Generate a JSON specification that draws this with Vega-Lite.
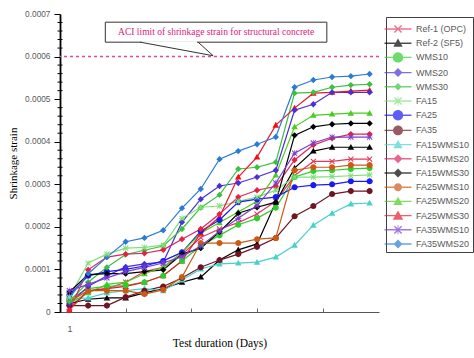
{
"$schema": "https://vega.github.io/schema/vega-lite/v6.json",
"width": 319, "height": 298,
"autosize": "none",
"padding": {"left": 60, "top": 14, "right": 95, "bottom": 46},
"background": "white",
"config": {"view": {"stroke": null}},
"datasets": {
"curves": [
{"s":"Ref-1 (OPC)","d":1,"v":0.1e-4},{"s":"Ref-1 (OPC)","d":2,"v":0.5e-4},{"s":"Ref-1 (OPC)","d":3,"v":0.55e-4},{"s":"Ref-1 (OPC)","d":4,"v":0.7e-4},{"s":"Ref-1 (OPC)","d":5,"v":0.95e-4},{"s":"Ref-1 (OPC)","d":6,"v":1.05e-4},{"s":"Ref-1 (OPC)","d":7,"v":1.35e-4},{"s":"Ref-1 (OPC)","d":8,"v":1.75e-4},{"s":"Ref-1 (OPC)","d":9,"v":1.95e-4},{"s":"Ref-1 (OPC)","d":10,"v":2.1e-4},{"s":"Ref-1 (OPC)","d":11,"v":2.3e-4},{"s":"Ref-1 (OPC)","d":12,"v":2.6e-4},{"s":"Ref-1 (OPC)","d":13,"v":3.2e-4},{"s":"Ref-1 (OPC)","d":14,"v":3.54e-4},{"s":"Ref-1 (OPC)","d":15,"v":3.54e-4},{"s":"Ref-1 (OPC)","d":16,"v":3.59e-4},{"s":"Ref-1 (OPC)","d":17,"v":3.59e-4},
{"s":"Ref-2 (SF5)","d":1,"v":0.2e-4},{"s":"Ref-2 (SF5)","d":2,"v":0.3e-4},{"s":"Ref-2 (SF5)","d":3,"v":0.33e-4},{"s":"Ref-2 (SF5)","d":4,"v":0.33e-4},{"s":"Ref-2 (SF5)","d":5,"v":0.45e-4},{"s":"Ref-2 (SF5)","d":6,"v":0.55e-4},{"s":"Ref-2 (SF5)","d":7,"v":0.7e-4},{"s":"Ref-2 (SF5)","d":8,"v":0.82e-4},{"s":"Ref-2 (SF5)","d":9,"v":1.22e-4},{"s":"Ref-2 (SF5)","d":10,"v":1.46e-4},{"s":"Ref-2 (SF5)","d":11,"v":1.6e-4},{"s":"Ref-2 (SF5)","d":12,"v":2.58e-4},{"s":"Ref-2 (SF5)","d":13,"v":3.38e-4},{"s":"Ref-2 (SF5)","d":14,"v":3.78e-4},{"s":"Ref-2 (SF5)","d":15,"v":3.87e-4},{"s":"Ref-2 (SF5)","d":16,"v":3.87e-4},{"s":"Ref-2 (SF5)","d":17,"v":3.87e-4},
{"s":"WMS10","d":1,"v":0.3e-4},{"s":"WMS10","d":2,"v":0.55e-4},{"s":"WMS10","d":3,"v":0.6e-4},{"s":"WMS10","d":4,"v":0.62e-4},{"s":"WMS10","d":5,"v":0.7e-4},{"s":"WMS10","d":6,"v":0.85e-4},{"s":"WMS10","d":7,"v":1.2e-4},{"s":"WMS10","d":8,"v":1.55e-4},{"s":"WMS10","d":9,"v":1.8e-4},{"s":"WMS10","d":10,"v":2.05e-4},{"s":"WMS10","d":11,"v":2.2e-4},{"s":"WMS10","d":12,"v":2.45e-4},{"s":"WMS10","d":13,"v":3.17e-4},{"s":"WMS10","d":14,"v":3.31e-4},{"s":"WMS10","d":15,"v":3.33e-4},{"s":"WMS10","d":16,"v":3.36e-4},{"s":"WMS10","d":17,"v":3.38e-4},
{"s":"WMS20","d":1,"v":0.2e-4},{"s":"WMS20","d":2,"v":0.6e-4},{"s":"WMS20","d":3,"v":0.85e-4},{"s":"WMS20","d":4,"v":1.06e-4},{"s":"WMS20","d":5,"v":1.13e-4},{"s":"WMS20","d":6,"v":1.17e-4},{"s":"WMS20","d":7,"v":2.11e-4},{"s":"WMS20","d":8,"v":2.65e-4},{"s":"WMS20","d":9,"v":2.96e-4},{"s":"WMS20","d":10,"v":3.03e-4},{"s":"WMS20","d":11,"v":3.17e-4},{"s":"WMS20","d":12,"v":3.33e-4},{"s":"WMS20","d":13,"v":4.74e-4},{"s":"WMS20","d":14,"v":4.88e-4},{"s":"WMS20","d":15,"v":5.16e-4},{"s":"WMS20","d":16,"v":5.16e-4},{"s":"WMS20","d":17,"v":5.16e-4},
{"s":"WMS30","d":1,"v":0.25e-4},{"s":"WMS30","d":2,"v":0.7e-4},{"s":"WMS30","d":3,"v":1.05e-4},{"s":"WMS30","d":4,"v":1.35e-4},{"s":"WMS30","d":5,"v":1.45e-4},{"s":"WMS30","d":6,"v":1.55e-4},{"s":"WMS30","d":7,"v":1.95e-4},{"s":"WMS30","d":8,"v":2.45e-4},{"s":"WMS30","d":9,"v":2.75e-4},{"s":"WMS30","d":10,"v":3.36e-4},{"s":"WMS30","d":11,"v":3.4e-4},{"s":"WMS30","d":12,"v":3.52e-4},{"s":"WMS30","d":13,"v":5.14e-4},{"s":"WMS30","d":14,"v":5.16e-4},{"s":"WMS30","d":15,"v":5.28e-4},{"s":"WMS30","d":16,"v":5.33e-4},{"s":"WMS30","d":17,"v":5.35e-4},
{"s":"FA15","d":1,"v":0.35e-4},{"s":"FA15","d":2,"v":1.15e-4},{"s":"FA15","d":3,"v":1.36e-4},{"s":"FA15","d":4,"v":1.5e-4},{"s":"FA15","d":5,"v":1.52e-4},{"s":"FA15","d":6,"v":1.57e-4},{"s":"FA15","d":7,"v":2.2e-4},{"s":"FA15","d":8,"v":2.46e-4},{"s":"FA15","d":9,"v":2.49e-4},{"s":"FA15","d":10,"v":2.6e-4},{"s":"FA15","d":11,"v":2.7e-4},{"s":"FA15","d":12,"v":2.86e-4},{"s":"FA15","d":13,"v":3.17e-4},{"s":"FA15","d":14,"v":3.17e-4},{"s":"FA15","d":15,"v":3.18e-4},{"s":"FA15","d":16,"v":3.2e-4},{"s":"FA15","d":17,"v":3.22e-4},
{"s":"FA25","d":1,"v":0.4e-4},{"s":"FA25","d":2,"v":0.85e-4},{"s":"FA25","d":3,"v":0.95e-4},{"s":"FA25","d":4,"v":1.0e-4},{"s":"FA25","d":5,"v":1.08e-4},{"s":"FA25","d":6,"v":1.2e-4},{"s":"FA25","d":7,"v":1.4e-4},{"s":"FA25","d":8,"v":1.9e-4},{"s":"FA25","d":9,"v":2.16e-4},{"s":"FA25","d":10,"v":2.58e-4},{"s":"FA25","d":11,"v":2.65e-4},{"s":"FA25","d":12,"v":2.7e-4},{"s":"FA25","d":13,"v":2.93e-4},{"s":"FA25","d":14,"v":2.98e-4},{"s":"FA25","d":15,"v":3.0e-4},{"s":"FA25","d":16,"v":3.07e-4},{"s":"FA25","d":17,"v":3.07e-4},
{"s":"FA35","d":1,"v":0.15e-4},{"s":"FA35","d":2,"v":0.15e-4},{"s":"FA35","d":3,"v":0.15e-4},{"s":"FA35","d":4,"v":0.35e-4},{"s":"FA35","d":5,"v":0.5e-4},{"s":"FA35","d":6,"v":0.6e-4},{"s":"FA35","d":7,"v":0.8e-4},{"s":"FA35","d":8,"v":1.05e-4},{"s":"FA35","d":9,"v":1.22e-4},{"s":"FA35","d":10,"v":1.36e-4},{"s":"FA35","d":11,"v":1.53e-4},{"s":"FA35","d":12,"v":1.74e-4},{"s":"FA35","d":13,"v":2.25e-4},{"s":"FA35","d":14,"v":2.49e-4},{"s":"FA35","d":15,"v":2.77e-4},{"s":"FA35","d":16,"v":2.84e-4},{"s":"FA35","d":17,"v":2.84e-4},
{"s":"FA15WMS10","d":1,"v":0.3e-4},{"s":"FA15WMS10","d":2,"v":0.33e-4},{"s":"FA15WMS10","d":3,"v":0.45e-4},{"s":"FA15WMS10","d":4,"v":0.5e-4},{"s":"FA15WMS10","d":5,"v":0.55e-4},{"s":"FA15WMS10","d":6,"v":0.5e-4},{"s":"FA15WMS10","d":7,"v":0.75e-4},{"s":"FA15WMS10","d":8,"v":1.01e-4},{"s":"FA15WMS10","d":9,"v":1.13e-4},{"s":"FA15WMS10","d":10,"v":1.15e-4},{"s":"FA15WMS10","d":11,"v":1.17e-4},{"s":"FA15WMS10","d":12,"v":1.29e-4},{"s":"FA15WMS10","d":13,"v":1.57e-4},{"s":"FA15WMS10","d":14,"v":2.04e-4},{"s":"FA15WMS10","d":15,"v":2.32e-4},{"s":"FA15WMS10","d":16,"v":2.54e-4},{"s":"FA15WMS10","d":17,"v":2.56e-4},
{"s":"FA15WMS20","d":1,"v":0.05e-4},{"s":"FA15WMS20","d":2,"v":0.99e-4},{"s":"FA15WMS20","d":3,"v":1.29e-4},{"s":"FA15WMS20","d":4,"v":1.36e-4},{"s":"FA15WMS20","d":5,"v":1.38e-4},{"s":"FA15WMS20","d":6,"v":1.46e-4},{"s":"FA15WMS20","d":7,"v":1.71e-4},{"s":"FA15WMS20","d":8,"v":1.95e-4},{"s":"FA15WMS20","d":9,"v":2.3e-4},{"s":"FA15WMS20","d":10,"v":2.7e-4},{"s":"FA15WMS20","d":11,"v":2.86e-4},{"s":"FA15WMS20","d":12,"v":2.95e-4},{"s":"FA15WMS20","d":13,"v":3.57e-4},{"s":"FA15WMS20","d":14,"v":3.92e-4},{"s":"FA15WMS20","d":15,"v":4.08e-4},{"s":"FA15WMS20","d":16,"v":4.18e-4},{"s":"FA15WMS20","d":17,"v":4.18e-4},
{"s":"FA15WMS30","d":1,"v":0.47e-4},{"s":"FA15WMS30","d":2,"v":0.88e-4},{"s":"FA15WMS30","d":3,"v":0.9e-4},{"s":"FA15WMS30","d":4,"v":0.9e-4},{"s":"FA15WMS30","d":5,"v":0.95e-4},{"s":"FA15WMS30","d":6,"v":0.99e-4},{"s":"FA15WMS30","d":7,"v":1.36e-4},{"s":"FA15WMS30","d":8,"v":1.5e-4},{"s":"FA15WMS30","d":9,"v":1.88e-4},{"s":"FA15WMS30","d":10,"v":2.32e-4},{"s":"FA15WMS30","d":11,"v":2.46e-4},{"s":"FA15WMS30","d":12,"v":2.58e-4},{"s":"FA15WMS30","d":13,"v":4.15e-4},{"s":"FA15WMS30","d":14,"v":4.35e-4},{"s":"FA15WMS30","d":15,"v":4.41e-4},{"s":"FA15WMS30","d":16,"v":4.43e-4},{"s":"FA15WMS30","d":17,"v":4.43e-4},
{"s":"FA25WMS10","d":1,"v":0.25e-4},{"s":"FA25WMS10","d":2,"v":0.5e-4},{"s":"FA25WMS10","d":3,"v":0.5e-4},{"s":"FA25WMS10","d":4,"v":0.5e-4},{"s":"FA25WMS10","d":5,"v":0.42e-4},{"s":"FA25WMS10","d":6,"v":0.52e-4},{"s":"FA25WMS10","d":7,"v":0.82e-4},{"s":"FA25WMS10","d":8,"v":1.62e-4},{"s":"FA25WMS10","d":9,"v":1.62e-4},{"s":"FA25WMS10","d":10,"v":1.62e-4},{"s":"FA25WMS10","d":11,"v":1.71e-4},{"s":"FA25WMS10","d":12,"v":1.74e-4},{"s":"FA25WMS10","d":13,"v":3.33e-4},{"s":"FA25WMS10","d":14,"v":3.4e-4},{"s":"FA25WMS10","d":15,"v":3.4e-4},{"s":"FA25WMS10","d":16,"v":3.45e-4},{"s":"FA25WMS10","d":17,"v":3.45e-4},
{"s":"FA25WMS20","d":1,"v":0.2e-4},{"s":"FA25WMS20","d":2,"v":0.45e-4},{"s":"FA25WMS20","d":3,"v":0.65e-4},{"s":"FA25WMS20","d":4,"v":0.7e-4},{"s":"FA25WMS20","d":5,"v":0.9e-4},{"s":"FA25WMS20","d":6,"v":1.05e-4},{"s":"FA25WMS20","d":7,"v":1.4e-4},{"s":"FA25WMS20","d":8,"v":1.85e-4},{"s":"FA25WMS20","d":9,"v":2.1e-4},{"s":"FA25WMS20","d":10,"v":2.35e-4},{"s":"FA25WMS20","d":11,"v":2.6e-4},{"s":"FA25WMS20","d":12,"v":3.22e-4},{"s":"FA25WMS20","d":13,"v":4.35e-4},{"s":"FA25WMS20","d":14,"v":4.62e-4},{"s":"FA25WMS20","d":15,"v":4.65e-4},{"s":"FA25WMS20","d":16,"v":4.67e-4},{"s":"FA25WMS20","d":17,"v":4.67e-4},
{"s":"FA25WMS30","d":1,"v":0.05e-4},{"s":"FA25WMS30","d":2,"v":0.5e-4},{"s":"FA25WMS30","d":3,"v":0.55e-4},{"s":"FA25WMS30","d":4,"v":0.6e-4},{"s":"FA25WMS30","d":5,"v":0.7e-4},{"s":"FA25WMS30","d":6,"v":0.85e-4},{"s":"FA25WMS30","d":7,"v":1.2e-4},{"s":"FA25WMS30","d":8,"v":1.85e-4},{"s":"FA25WMS30","d":9,"v":2.23e-4},{"s":"FA25WMS30","d":10,"v":3.17e-4},{"s":"FA25WMS30","d":11,"v":3.64e-4},{"s":"FA25WMS30","d":12,"v":4.39e-4},{"s":"FA25WMS30","d":13,"v":4.79e-4},{"s":"FA25WMS30","d":14,"v":5.14e-4},{"s":"FA25WMS30","d":15,"v":5.16e-4},{"s":"FA25WMS30","d":16,"v":5.19e-4},{"s":"FA25WMS30","d":17,"v":5.21e-4},
{"s":"FA35WMS10","d":1,"v":0.5e-4},{"s":"FA35WMS10","d":2,"v":0.65e-4},{"s":"FA35WMS10","d":3,"v":0.8e-4},{"s":"FA35WMS10","d":4,"v":0.95e-4},{"s":"FA35WMS10","d":5,"v":1.05e-4},{"s":"FA35WMS10","d":6,"v":1.15e-4},{"s":"FA35WMS10","d":7,"v":1.3e-4},{"s":"FA35WMS10","d":8,"v":1.55e-4},{"s":"FA35WMS10","d":9,"v":1.9e-4},{"s":"FA35WMS10","d":10,"v":2.2e-4},{"s":"FA35WMS10","d":11,"v":2.5e-4},{"s":"FA35WMS10","d":12,"v":3.03e-4},{"s":"FA35WMS10","d":13,"v":3.73e-4},{"s":"FA35WMS10","d":14,"v":3.97e-4},{"s":"FA35WMS10","d":15,"v":4.11e-4},{"s":"FA35WMS10","d":16,"v":4.11e-4},{"s":"FA35WMS10","d":17,"v":4.11e-4},
{"s":"FA35WMS20","d":1,"v":0.33e-4},{"s":"FA35WMS20","d":2,"v":0.9e-4},{"s":"FA35WMS20","d":3,"v":1.29e-4},{"s":"FA35WMS20","d":4,"v":1.65e-4},{"s":"FA35WMS20","d":5,"v":1.74e-4},{"s":"FA35WMS20","d":6,"v":1.92e-4},{"s":"FA35WMS20","d":7,"v":2.44e-4},{"s":"FA35WMS20","d":8,"v":2.89e-4},{"s":"FA35WMS20","d":9,"v":3.59e-4},{"s":"FA35WMS20","d":10,"v":3.78e-4},{"s":"FA35WMS20","d":11,"v":3.94e-4},{"s":"FA35WMS20","d":12,"v":4.11e-4},{"s":"FA35WMS20","d":13,"v":5.28e-4},{"s":"FA35WMS20","d":14,"v":5.45e-4},{"s":"FA35WMS20","d":15,"v":5.52e-4},{"s":"FA35WMS20","d":16,"v":5.54e-4},{"s":"FA35WMS20","d":17,"v":5.59e-4}
]
},
"layer": [
{
"data": {"values": [{"limit": 6e-4}]},
"mark": {"type": "rule", "color": "#dc4a9a", "strokeDash": [3, 3], "strokeWidth": 1.5},
"encoding": {"y": {"field": "limit", "type": "quantitative"}}
},
{
"data": {"values": [{"m": 2e-5}, {"m": 4e-5}, {"m": 6e-5}, {"m": 8e-5}, {"m": 1.2e-4}, {"m": 1.4e-4}, {"m": 1.6e-4}, {"m": 1.8e-4}, {"m": 2.2e-4}, {"m": 2.4e-4}, {"m": 2.6e-4}, {"m": 2.8e-4}, {"m": 3.2e-4}, {"m": 3.4e-4}, {"m": 3.6e-4}, {"m": 3.8e-4}, {"m": 4.2e-4}, {"m": 4.4e-4}, {"m": 4.6e-4}, {"m": 4.8e-4}, {"m": 5.2e-4}, {"m": 5.4e-4}, {"m": 5.6e-4}, {"m": 5.8e-4}, {"m": 6.2e-4}, {"m": 6.4e-4}, {"m": 6.6e-4}, {"m": 6.8e-4}]},
"mark": {"type": "tick", "orient": "horizontal", "color": "#000", "size": 5, "thickness": 1, "opacity": 1},
"encoding": {"y": {"field": "m", "type": "quantitative"}, "x": {"datum": 0.5, "type": "quantitative"}}
},
{
"data": {"name": "curves"},
"mark": {"type": "line", "strokeWidth": 1.2},
"encoding": {
"x": {"field": "d", "type": "quantitative", "scale": {"domain": [0.5, 17.5], "nice": false, "zero": false},
"axis": {"values": [1, 4, 7.5, 11, 14.5], "grid": false, "labelExpr": "datum.value == 1 ? '1' : ''", "tickSize": -4, "tickColor": "#666", "tickOpacity": {"condition": {"test": "datum.value == 1", "value": 0}, "value": 1}, "domainColor": "#555", "domainWidth": 1.2, "labelFont": "Liberation Sans", "labelFontSize": 9, "labelColor": "#595959", "labelPadding": 16, "title": "Test duration (Days)", "titleFont": "Liberation Serif", "titleFontSize": 11.5, "titleFontWeight": "normal", "titleColor": "#000", "titlePadding": 4}},
"y": {"field": "v", "type": "quantitative", "scale": {"domain": [0, 0.0007], "nice": false},
"axis": {"values": [0, 0.0001, 0.0002, 0.0003, 0.0004, 0.0005, 0.0006, 0.0007],
"grid": false, "labelOverlap": false, "format": ".4f",
"labelExpr": "datum.value == 0 ? '0' : datum.label",
"tickSize": 6,
"tickColor": "#000", "domainColor": "#000", "domainWidth": 1.8,
"labelFont": "Liberation Sans", "labelFontSize": 8.3, "labelColor": "#595959", "labelPadding": 4,
"title": "Shrinkage strain", "titleFont": "Liberation Serif", "titleFontSize": 11, "titleFontWeight": "normal", "titleColor": "#000", "titlePadding": 6}},
"stroke": {"field": "s", "type": "nominal", "legend": null,
"scale": {"domain": ["FA35WMS20","FA35WMS10","FA25WMS30","FA25WMS20","FA25WMS10","FA15WMS30","FA15WMS20","FA15WMS10","FA35","FA25","FA15","WMS30","WMS20","WMS10","Ref-2 (SF5)","Ref-1 (OPC)"],
"range": ["#2b7bd6","#7a3fcf","#e8192c","#4ccc1f","#cc5a14","#000000","#e0245e","#48d1cc","#6e1423","#1a1af0","#7fe07a","#3fbf3f","#4b2ed6","#2fcc2f","#000000","#e8365e"]}}
}
},
{
"data": {"name": "curves"},
"transform": [{"filter": {"field": "s", "oneOf": ["Ref-1 (OPC)"]}}],
"mark": {"type": "point", "filled": true, "opacity": 1, "size": 160, "shape": "M-0.343,-0.457L0.457,0.343L0.343,0.457L-0.457,-0.343ZM0.457,-0.343L-0.343,0.457L-0.457,0.343L0.343,-0.457Z"},
"encoding": {"x": {"field": "d", "type": "quantitative"}, "y": {"field": "v", "type": "quantitative"},
"fill": {"field": "s", "type": "nominal", "legend": null,
"scale": {"domain": ["FA35WMS20","FA35WMS10","FA25WMS30","FA25WMS20","FA25WMS10","FA15WMS30","FA15WMS20","FA15WMS10","FA35","FA25","FA15","WMS30","WMS20","WMS10","Ref-2 (SF5)","Ref-1 (OPC)"],
"range": ["#2b7bd6","#7a3fcf","#ee1111","#4ccc1f","#cc5a14","#000000","#e8203c","#48d1cc","#6e1423","#1a1af0","#7fe07a","#3fbf3f","#4b2ed6","#2fcc2f","#000000","#e8365e"]}}}
},
{
"data": {"name": "curves"},
"transform": [{"filter": {"field": "s", "oneOf": ["Ref-2 (SF5)", "FA15WMS10", "FA25WMS20", "FA25WMS30"]}}],
"mark": {"type": "point", "filled": true, "opacity": 1, "size": 160, "shape": "M0,-0.52L0.52,0.4L-0.52,0.4Z"},
"encoding": {"x": {"field": "d", "type": "quantitative"}, "y": {"field": "v", "type": "quantitative"}, "fill": {"field": "s", "type": "nominal", "legend": null}}
},
{
"data": {"name": "curves"},
"transform": [{"filter": {"field": "s", "oneOf": ["WMS10", "FA25", "FA35", "FA25WMS10"]}}],
"mark": {"type": "point", "filled": true, "opacity": 1, "size": 160, "shape": "M-0.48,0A0.48,0.48 0 1,1 0.48,0A0.48,0.48 0 1,1 -0.48,0Z"},
"encoding": {"x": {"field": "d", "type": "quantitative"}, "y": {"field": "v", "type": "quantitative"}, "fill": {"field": "s", "type": "nominal", "legend": null}}
},
{
"data": {"name": "curves"},
"transform": [{"filter": {"field": "s", "oneOf": ["WMS20", "WMS30", "FA15WMS20", "FA15WMS30", "FA35WMS20"]}}],
"mark": {"type": "point", "filled": true, "opacity": 1, "size": 160, "shape": "M0,-0.5L0.5,0L0,0.5L-0.5,0Z"},
"encoding": {"x": {"field": "d", "type": "quantitative"}, "y": {"field": "v", "type": "quantitative"}, "fill": {"field": "s", "type": "nominal", "legend": null}}
},
{
"data": {"name": "curves"},
"transform": [{"filter": {"field": "s", "oneOf": ["FA15", "FA35WMS10"]}}],
"mark": {"type": "point", "filled": true, "opacity": 1, "size": 160, "shape": "M-0.343,-0.457L0.457,0.343L0.343,0.457L-0.457,-0.343ZM0.457,-0.343L-0.343,0.457L-0.457,0.343L0.343,-0.457ZM-0.05,-0.5H0.05V0.5H-0.05ZM-0.5,-0.05H0.5V0.05H-0.5Z"},
"encoding": {"x": {"field": "d", "type": "quantitative"}, "y": {"field": "v", "type": "quantitative"}, "fill": {"field": "s", "type": "nominal", "legend": null}}
},
{
"data": {"name": "curves"},
"transform": [{"filter": "datum.d > 100"}],
"mark": {"type": "point", "filled": true},
"encoding": {
"x": {"field": "d", "type": "quantitative"},
"y": {"field": "v", "type": "quantitative"},
"color": {"field": "s", "type": "nominal",
"legend": {"title": null, "orient": "none", "legendX": 326, "legendY": 3, "padding": 3, "strokeColor": "#404040", "fillColor": "white", "symbolSize": 324, "symbolStrokeWidth": 0, "labelFont": "Liberation Sans", "labelFontSize": 9, "labelColor": "#595959", "labelOffset": 9, "rowPadding": 0.2, "labelLimit": 80},
"scale": {"domain": ["Ref-1 (OPC)","Ref-2 (SF5)","WMS10","WMS20","WMS30","FA15","FA25","FA35","FA15WMS10","FA15WMS20","FA15WMS30","FA25WMS10","FA25WMS20","FA25WMS30","FA35WMS10","FA35WMS20"],
"range": ["#e8365e","#000000","#2fcc2f","#4b2ed6","#3fbf3f","#7fe07a","#1a1af0","#6e1423","#48d1cc","#e0245e","#000000","#cc5a14","#4ccc1f","#e8192c","#7a3fcf","#2b7bd6"]}},
"shape": {"field": "s", "type": "nominal",
"legend": {"title": null, "orient": "none", "legendX": 326, "legendY": 3, "padding": 3, "strokeColor": "#404040", "fillColor": "white", "symbolSize": 324, "symbolStrokeWidth": 0, "labelFont": "Liberation Sans", "labelFontSize": 9, "labelColor": "#595959", "labelOffset": 9, "rowPadding": 0.2, "labelLimit": 80},
"scale": {"domain": ["Ref-1 (OPC)","Ref-2 (SF5)","WMS10","WMS20","WMS30","FA15","FA25","FA35","FA15WMS10","FA15WMS20","FA15WMS30","FA25WMS10","FA25WMS20","FA25WMS30","FA35WMS10","FA35WMS20"],
"range": [
"M-1.5,-0.08H1.5V0.08H-1.5ZM-0.343,-0.457L0.457,0.343L0.343,0.457L-0.457,-0.343ZM0.457,-0.343L-0.343,0.457L-0.457,0.343L0.343,-0.457Z",
"M-1.5,-0.08H1.5V0.08H-1.5ZM0,-0.52L0.52,0.4L-0.52,0.4Z",
"M-1.5,-0.08H1.5V0.08H-1.5ZM-0.58,0A0.58,0.58 0 1,1 0.58,0A0.58,0.58 0 1,1 -0.58,0Z",
"M-1.5,-0.08H1.5V0.08H-1.5ZM0,-0.5L0.5,0L0,0.5L-0.5,0Z",
"M-1.5,-0.08H1.5V0.08H-1.5ZM0,-0.42L0.42,0L0,0.42L-0.42,0Z",
"M-1.5,-0.08H1.5V0.08H-1.5ZM-0.343,-0.457L0.457,0.343L0.343,0.457L-0.457,-0.343ZM0.457,-0.343L-0.343,0.457L-0.457,0.343L0.343,-0.457ZM-0.05,-0.5H0.05V0.5H-0.05Z",
"M-1.5,-0.08H1.5V0.08H-1.5ZM-0.58,0A0.58,0.58 0 1,1 0.58,0A0.58,0.58 0 1,1 -0.58,0Z",
"M-1.5,-0.08H1.5V0.08H-1.5ZM-0.55,0A0.55,0.55 0 1,1 0.55,0A0.55,0.55 0 1,1 -0.55,0Z",
"M-1.5,-0.08H1.5V0.08H-1.5ZM0,-0.52L0.52,0.4L-0.52,0.4Z",
"M-1.5,-0.08H1.5V0.08H-1.5ZM0,-0.5L0.5,0L0,0.5L-0.5,0Z",
"M-1.5,-0.08H1.5V0.08H-1.5ZM0,-0.5L0.5,0L0,0.5L-0.5,0Z",
"M-1.5,-0.08H1.5V0.08H-1.5ZM-0.45,0A0.45,0.45 0 1,1 0.45,0A0.45,0.45 0 1,1 -0.45,0Z",
"M-1.5,-0.08H1.5V0.08H-1.5ZM0,-0.52L0.52,0.4L-0.52,0.4Z",
"M-1.5,-0.08H1.5V0.08H-1.5ZM0,-0.58L0.58,0.45L-0.58,0.45Z",
"M-1.5,-0.08H1.5V0.08H-1.5ZM-0.343,-0.457L0.457,0.343L0.343,0.457L-0.457,-0.343ZM0.457,-0.343L-0.343,0.457L-0.457,0.343L0.343,-0.457ZM-0.05,-0.5H0.05V0.5H-0.05Z",
"M-1.5,-0.08H1.5V0.08H-1.5ZM0,-0.5L0.5,0L0,0.5L-0.5,0Z"
]}}
}
},
{
"data": {"values": [{"x1": 2.915, "x2": 14.72, "y1": 6.808e-4, "y2": 6.338e-4}]},
"mark": {"type": "rect", "fill": "white", "stroke": "#333333", "strokeWidth": 1},
"encoding": {"x": {"field": "x1", "type": "quantitative"}, "x2": {"field": "x2"}, "y": {"field": "y1", "type": "quantitative"}, "y2": {"field": "y2"}}
},
{
"data": {"values": [{"x1": 4.84, "x2": 7.8, "y": 6.338e-4}]},
"mark": {"type": "rule", "color": "white", "strokeWidth": 2},
"encoding": {"x": {"field": "x1", "type": "quantitative"}, "x2": {"field": "x2"}, "y": {"field": "y", "type": "quantitative"}}
},
{
"data": {"values": [{"px": 4.78, "py": 6.338e-4, "o": 1}, {"px": 8.66, "py": 6.02e-4, "o": 2}, {"px": 7.86, "py": 6.338e-4, "o": 3}]},
"mark": {"type": "line", "color": "#333333", "strokeWidth": 1},
"encoding": {"x": {"field": "px", "type": "quantitative"}, "y": {"field": "py", "type": "quantitative"}, "order": {"field": "o", "type": "quantitative"}}
},
{
"data": {"values": [{"tx": 8.82, "ty": 6.573e-4, "label": "ACI limit of shrinkage strain for structural concrete"}]},
"mark": {"type": "text", "font": "Liberation Serif", "fontSize": 9.5, "color": "#e0207a", "align": "center", "baseline": "middle"},
"encoding": {"x": {"field": "tx", "type": "quantitative"}, "y": {"field": "ty", "type": "quantitative"}, "text": {"field": "label"}}
}
]
}
